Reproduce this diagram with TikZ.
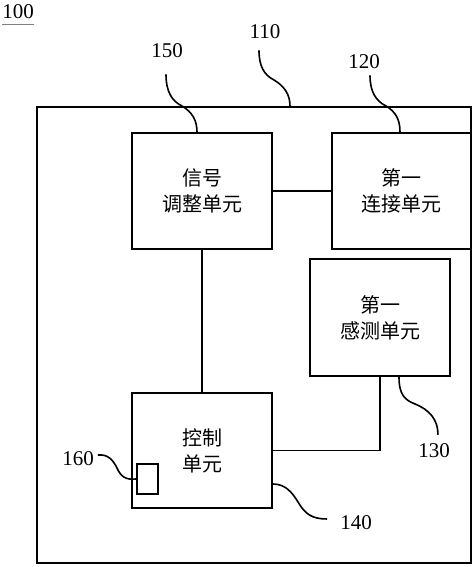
\documentclass[tikz,border=0pt]{standalone}
\usepackage{fontspec}
\setmainfont{Liberation Serif}
\newfontfamily\cjk{Noto Sans CJK SC}
\usetikzlibrary{calc}

\begin{document}
\begin{tikzpicture}[x=1pt,y=-1pt,
  unit/.style={draw,line width=1.9pt,align=center,inner sep=0pt,
    font=\cjk\fontsize{20}{26}\selectfont},
  numlabel/.style={inner sep=0pt,font=\fontsize{21}{24}\selectfont},
  leader/.style={line width=1.6pt}]
  \useasboundingbox (0,0) rectangle (474,567);

  % boxes
  \node[unit,minimum width=434,minimum height=456] (dev) at (254,335) {};
  \node[unit,minimum width=140,minimum height=116] (adj) at (202,191) {信号\\调整单元};
  \node[unit,minimum width=139,minimum height=116] (conn) at (401.5,191) {第一\\连接单元};
  \node[unit,minimum width=140,minimum height=117] (sens) at (380,317.5) {第一\\感测单元};
  \node[unit,minimum width=140,minimum height=115] (ctrl) at (202,450.5) {控制\\单元};
  \node[unit,minimum width=21,minimum height=30] (mem) at (147.5,479) {};

  % links
  \draw[line width=1.9pt] (adj.east) -- (conn.west);
  \draw[line width=1.9pt] (adj.south) -- (ctrl.north);
  \draw[line width=1.9pt] (ctrl.east) -- (ctrl.east -| sens.south) -- (sens.south);

  % reference numbers
  \node[numlabel] (l100) at (18,12) {100};
  \draw[gray,line width=1.2pt] ([shift={(0,5)}]l100.south west) -- ([shift={(0,5)}]l100.south east);
  \node[numlabel] (l110) at (265,32) {110};
  \node[numlabel] (l150) at (167,51) {150};
  \node[numlabel] (l120) at (364,62) {120};
  \node[numlabel] (l130) at (434,451) {130};
  \node[numlabel] (l140) at (356,523) {140};
  \node[numlabel] (l160) at (78,459) {160};

  % leaders
  \draw[leader] ([shift={(-6,11)}]l110.south) .. controls (259,66) and (264,75) .. (274,80)
    .. controls (284,86) and (290,94) .. ([xshift=36pt]dev.north);
  \draw[leader] ([shift={(-1,16)}]l150.south) .. controls (166,92) and (172,101) .. (182,106)
    .. controls (192,112) and (197,120) .. ([xshift=-5pt]adj.north);
  \draw[leader] ([shift={(6,6)}]l120.south) .. controls (370,92) and (376,101) .. (386,106)
    .. controls (396,112) and (400,120) .. ([shift={(-1.5,0)}]conn.north);
  \draw[leader] ([xshift=19pt]sens.south) .. controls (399,395) and (405,400) .. (415,404)
    .. controls (430,410) and (438,420) .. ([shift={(4,-9)}]l130.north);
  \draw[leader] ([yshift=-33.5pt]ctrl.east) .. controls (285,484) and (292,492) .. (298,502)
    .. controls (305,514) and (312,519) .. ([shift={(-13,-4)}]l140.west);
  \draw[leader] ([shift={(4,-4)}]l160.east) .. controls (108,454) and (113,460) .. (117,468)
    .. controls (121,477) and (126,480) .. (mem.west);
\end{tikzpicture}
\end{document}
